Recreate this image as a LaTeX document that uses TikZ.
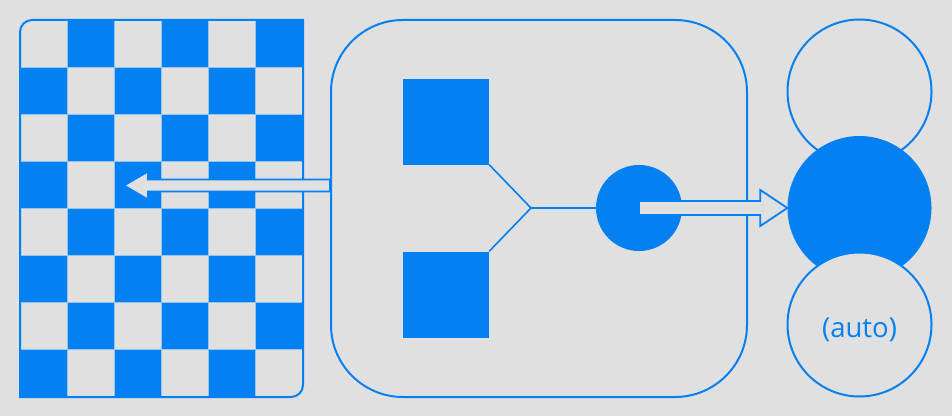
\documentclass[tikz,border=0pt]{standalone}
\usepackage{fontspec}
\setmainfont{Open Sans}
\usetikzlibrary{calc}
\definecolor{blu}{RGB}{3,128,242}
\definecolor{bg}{RGB}{224,224,224}
\definecolor{gridl}{RGB}{150,196,240}
\tikzset{
  outl/.style={draw=blu, line width=2pt},
  solidsq/.style={fill=blu, draw=none, minimum width=86pt, minimum height=86pt, inner sep=0pt},
  ring/.style={circle, draw=blu, fill=bg, line width=2pt, minimum size=144pt, inner sep=0pt},
  arrowst/.style={draw=blu, fill=bg, line width=1.8pt, line join=miter},
  forkline/.style={draw=blu, line width=1.6pt},
  lbl/.style={text=blu, inner sep=0pt, font=\fontsize{27.5}{30}\selectfont},
}
\begin{document}
\begin{tikzpicture}[x=1pt,y=1pt]
\fill[bg] (0,0) rectangle (952,416);
\useasboundingbox (0,0) rectangle (952,416);
% checkerboard
\def\bw{47.1667}
\def\bh{47.125}
\begin{scope}
\clip (20,19) -- (20,384) arc[start angle=180,end angle=90,radius=12] -- (303,396) -- (303,31) arc[start angle=0,end angle=-90,radius=12] -- cycle;
\foreach \i in {0,...,5} {
  \foreach \j in {0,...,7} {
    \pgfmathtruncatemacro{\parity}{mod(\i+\j,2)}
    \ifnum\parity=1
      \fill[blu] ({20+\i*\bw},{396-\j*\bh}) rectangle ++(\bw,-\bh);
    \fi
  }
}
\foreach \i in {1,...,5} \draw[gridl, line width=1pt] ({20+\i*\bw},19) -- ++(0,377);
\foreach \j in {1,...,7} \draw[gridl, line width=1pt] (20,{396-\j*\bh}) -- ++(283,0);
\end{scope}
\draw[outl] (20,19) -- (20,384) arc[start angle=180,end angle=90,radius=12] -- (303,396) -- (303,31) arc[start angle=0,end angle=-90,radius=12] -- cycle;
% container
\node[outl, rounded corners=72pt, minimum width=416pt, minimum height=377pt, inner sep=0pt] (box) at (539,207.5) {};
\node[solidsq] (sq1) at (446,294.5) {};
\node[solidsq] (sq2) at (446,121.5) {};
\coordinate (fork) at (531,208);
\node[circle, fill=blu, minimum size=86pt, inner sep=0pt] (dot) at (639,208) {};
\draw[forkline] (sq1.south east) -- (fork) -- (sq2.north east);
\draw[forkline] (fork) -- (dot.west);
% right column circles
\node[ring] (c1) at (859.5,324.5) {};
\node[circle, fill=blu, minimum size=144pt, inner sep=0pt] (c2) at (859.5,208) {};
\node[ring] (c3) at (859.5,91.5) {};
\node[lbl] (c3text) at ($(c3.center)+(0,-5)$) {(auto)};
% left arrow
\coordinate (ltip) at (124,230.5);
\coordinate (lb) at (box.west |- ltip);
\filldraw[arrowst] ($(lb)+(0,6)$) -- ($(ltip)+(24,6)$) -- ($(ltip)+(24,14)$) -- (ltip) -- ($(ltip)+(24,-14)$) -- ($(ltip)+(24,-6)$) -- ($(lb)+(0,-6)$) -- cycle;
% right arrow
\coordinate (rs) at (dot.center);
\coordinate (rt) at (c2.west);
\filldraw[arrowst] ($(rs)+(0,7)$) -- ($(rt)+(-27,7)$) -- ($(rt)+(-27,18)$) -- (rt) -- ($(rt)+(-27,-18)$) -- ($(rt)+(-27,-7)$) -- ($(rs)+(0,-7)$) -- cycle;
\end{tikzpicture}
\end{document}
